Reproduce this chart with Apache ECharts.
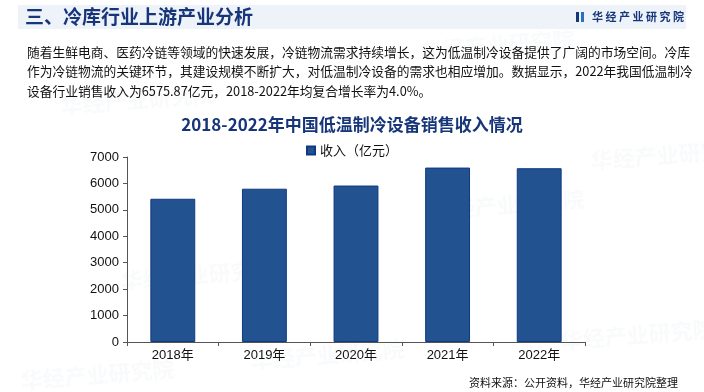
<!DOCTYPE html>
<html><head><meta charset="utf-8">
<script src="https://cdn.jsdelivr.net/npm/echarts@6/dist/echarts.min.js"></script>
<style>html,body{margin:0;padding:0;background:#fff}#c{width:704px;height:392px}</style>
</head><body><div id="c"></div>
<script>
const categories = ['2018年','2019年','2020年','2021年','2022年'];
const revenue = [5420, 5800, 5920, 6600, 6575.87];
const yTicks = [0,1000,2000,3000,4000,5000,6000,7000];
const seriesName = '收入（亿元）';
const headerText = '三、冷库行业上游产业分析';
const brandText = '华 经 产 业 研 究 院';
const paraLines = [
 '随着生鲜电商、医药冷链等领域的快速发展，冷链物流需求持续增长，这为低温制冷设备提供了广阔的市场空间。冷库',
 '作为冷链物流的关键环节，其建设规模不断扩大，对低温制冷设备的需求也相应增加。数据显示，2022年我国低温制冷',
 '设备行业销售收入为6575.87亿元，2018-2022年均复合增长率为4.0%。'
];
const chartTitle = '2018-2022年中国低温制冷设备销售收入情况';
const sourceText = '资料来源：公开资料，华经产业研究院整理';

const cjk = '"Microsoft YaHei","Noto Sans CJK SC",sans-serif';
const chart = echarts.init(document.getElementById('c'));
const graphic = [
  {type:'rect', shape:{x:18,y:5,width:668,height:24}, style:{fill:'#eef3fa'}, silent:true},
  {type:'text', x:25, y:17, style:{text:headerText, fill:'#17367a', font:'bold 19px '+cjk, textVerticalAlign:'middle'}},
  {type:'rect', shape:{x:576,y:12,width:3,height:10}, style:{fill:'#17367a'}},
  {type:'rect', shape:{x:581,y:12,width:3,height:10}, style:{fill:'#2a6fc0'}},
  {type:'text', x:592, y:17, style:{text:brandText, fill:'#17367a', font:'bold 11px '+cjk, textVerticalAlign:'middle'}},
  {type:'text', x:678, y:383, style:{text:sourceText, fill:'#111', font:'11px '+cjk, textAlign:'right', textVerticalAlign:'middle'}}
];
paraLines.forEach((t,i)=>graphic.push({type:'text', x:27, y:52+i*19.5, style:{text:t, fill:'#111', font:'12.75px '+cjk, textVerticalAlign:'middle'}}));
// faint watermarks
[[60,95],[420,40],[120,270],[430,200],[590,150],[560,330],[20,370],[250,350]].forEach(p=>graphic.push({type:'text', x:p[0], y:p[1], rotation:0.08, z:-10, style:{text:'华经产业研究院', fill:'rgba(200,205,215,0.10)', font:'bold 22px '+cjk}}));

chart.setOption({
  animation:false,
  title:{text:chartTitle, left:'center', top:111, textStyle:{color:'#17367a', fontSize:17, fontWeight:'bold', fontFamily:cjk}},
  legend:{top:139, left:'center', itemWidth:8, itemHeight:8, itemGap:6, icon:'rect', textStyle:{fontSize:13, color:'#111', fontFamily:cjk}, data:[seriesName]},
  grid:{left:127, right:119, top:157, bottom:50, containLabel:false},
  xAxis:{type:'category', data:categories,
    axisLine:{lineStyle:{color:'#555'}}, axisTick:{show:true, length:4, lineStyle:{color:'#555'}},
    axisLabel:{color:'#111', fontSize:13, fontFamily:'Arial,"Liberation Sans",'+cjk, margin:7}},
  yAxis:{type:'value', min:yTicks[0], max:yTicks[yTicks.length-1], interval:1000,
    axisLine:{show:true, lineStyle:{color:'#555'}}, axisTick:{show:true, length:4, lineStyle:{color:'#555'}},
    splitLine:{show:false},
    axisLabel:{color:'#111', fontSize:13, fontFamily:'Arial,"Liberation Sans",sans-serif', margin:8, formatter:v=>String(v)}},
  series:[{name:seriesName, type:'bar', data:revenue, barWidth:'49%',
    itemStyle:{color:'#22528f', borderColor:'#0e3a84', borderWidth:1}}],
  graphic:graphic
});
</script></body></html>
